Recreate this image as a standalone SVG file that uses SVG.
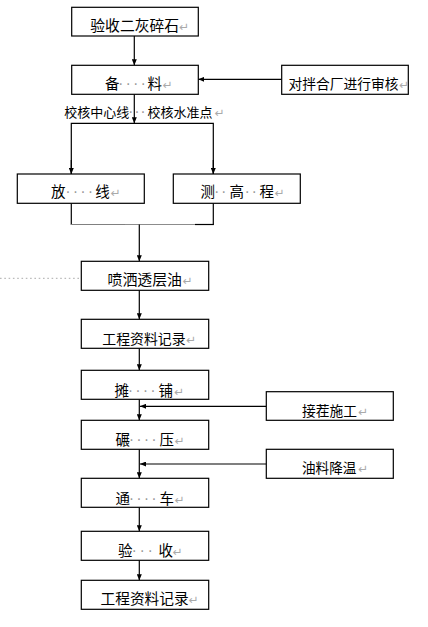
<svg xmlns="http://www.w3.org/2000/svg" width="428" height="627" viewBox="0 0 428 627">
<style>
.b{fill:#fff;stroke:#000;stroke-width:1.2}
.t{font-family:"Noto Sans CJK SC","Noto Sans",sans-serif;font-size:14.5px;fill:#000}
.d{font-family:"DejaVu Sans",sans-serif;font-size:14px;fill:#999;letter-spacing:3.05px}
.r{font-family:"DejaVu Sans",sans-serif;font-size:12px;fill:#aaa}
.c{fill:none;stroke:#000;stroke-width:1.2}
.a{marker-end:url(#ah)}
</style>
<defs>
<marker id="ah" viewBox="0 0 6 5" refX="6" refY="2.5" markerWidth="6" markerHeight="5" markerUnits="userSpaceOnUse" orient="auto">
<path d="M0,0 L6,2.5 L0,5 z" fill="#000"/>
</marker>
</defs>
<rect width="428" height="627" fill="#fff"/>
<g id="connectors">
<line class="c a" x1="134.3" y1="36" x2="134.3" y2="65.3"/>
<line class="c a" x1="281.7" y1="79.3" x2="198.3" y2="79.3"/>
<line class="c a" x1="134.3" y1="94.3" x2="134.3" y2="123.3"/>
<polyline class="c" points="71.3,174 71.3,123.3 213.3,123.3 213.3,174"/>
<line class="c a" x1="71.3" y1="160" x2="71.3" y2="174"/>
<line class="c a" x1="213.3" y1="160" x2="213.3" y2="174"/>
<line class="c" x1="71.3" y1="203.3" x2="71.3" y2="224.5"/>
<line class="c" x1="213.3" y1="203.3" x2="213.3" y2="224.5"/>
<line x1="70.7" y1="224.5" x2="125" y2="224.5" stroke="#808080" stroke-width="1.2"/>
<line x1="125" y1="224.5" x2="195" y2="224.5" stroke="#8c8c8c" stroke-width="1.2"/>
<line x1="195" y1="224.5" x2="213.9" y2="224.5" stroke="#000" stroke-width="1.2"/>
<line class="c a" x1="139.3" y1="224.5" x2="139.3" y2="261.3"/>
<line x1="0" y1="278.3" x2="81.3" y2="278.3" stroke="#aaa" stroke-width="1" stroke-dasharray="1.6 2.7"/>
<line class="c a" x1="139.3" y1="290.3" x2="139.3" y2="319.3"/>
<line class="c a" x1="139.3" y1="348.3" x2="139.3" y2="370.3"/>
<line class="c a" x1="139.3" y1="399.3" x2="139.3" y2="420.3"/>
<line class="c a" x1="266.3" y1="406.3" x2="140" y2="406.3"/>
<line class="c a" x1="139.3" y1="449.3" x2="139.3" y2="478.3"/>
<line class="c a" x1="266.3" y1="464" x2="140" y2="464"/>
<line class="c a" x1="139.3" y1="507.3" x2="139.3" y2="531.3"/>
<line class="c a" x1="139.3" y1="560.3" x2="139.3" y2="580.3"/>
</g>
<g id="n1">
<rect class="b" x="71.7" y="7.3" width="126.6" height="28.7"/>
<text class="t" y="30.5"><tspan x="90.3" style="font-size:14.8px">验收二灰碎石</tspan><tspan x="179" class="r">↵</tspan></text>
</g>
<g id="n2">
<rect class="b" x="71.7" y="65.3" width="126.6" height="29"/>
<text class="t" y="89"><tspan x="105">备</tspan><tspan x="118.5" class="d">····</tspan><tspan x="147.5">料</tspan><tspan x="162.5" class="r">↵</tspan></text>
</g>
<g id="n3">
<rect class="b" x="281.7" y="65.3" width="126.6" height="29"/>
<text class="t" y="89" style="font-size:13.75px"><tspan x="288.5">对拌合厂进行审核</tspan><tspan x="399" class="r">↵</tspan></text>
</g>
<g id="lbl">
<text class="t" y="117" style="font-size:13px"><tspan x="64.3">校核中心线</tspan><tspan x="128.5" class="d" style="letter-spacing:1.7px">···</tspan><tspan x="147.5">校核水准点</tspan><tspan x="214.5" class="r">↵</tspan></text>
</g>
<g id="n4">
<rect class="b" x="17.3" y="174" width="127" height="29.3"/>
<text class="t" y="197"><tspan x="51">放</tspan><tspan x="65.8" class="d">····</tspan><tspan x="95.3">线</tspan><tspan x="110.5" class="r">↵</tspan></text>
</g>
<g id="n5">
<rect class="b" x="173.3" y="174" width="127" height="29.3"/>
<text class="t" y="197"><tspan x="200.5">测</tspan><tspan x="214.5" class="d" style="letter-spacing:2.5px">··</tspan><tspan x="229.5">高</tspan><tspan x="245" class="d" style="letter-spacing:2.5px">··</tspan><tspan x="259.5">程</tspan><tspan x="274.5" class="r">↵</tspan></text>
</g>
<g id="n6">
<rect class="b" x="81.3" y="261.3" width="127.4" height="29"/>
<text class="t" y="285"><tspan x="107.5" style="font-size:14.9px">喷洒透层油</tspan><tspan x="182.5" class="r">↵</tspan></text>
</g>
<g id="n7">
<rect class="b" x="81.3" y="319.3" width="127.4" height="29"/>
<text class="t" y="344" style="font-size:13.9px"><tspan x="102.3">工程资料记录</tspan><tspan x="186" class="r">↵</tspan></text>
</g>
<g id="n8">
<rect class="b" x="81.3" y="370.3" width="127.4" height="29"/>
<text class="t" y="395.5"><tspan x="114.5">摊</tspan><tspan x="128.3" class="d">····</tspan><tspan x="158.5">铺</tspan><tspan x="174" class="r">↵</tspan></text>
</g>
<g id="n9">
<rect class="b" x="266.3" y="391.7" width="127" height="28.6"/>
<text class="t" y="415.5" style="font-size:13.75px"><tspan x="302">接茬施工</tspan><tspan x="358" class="r">↵</tspan></text>
</g>
<g id="n10">
<rect class="b" x="81.3" y="420.3" width="127.4" height="29"/>
<text class="t" y="445"><tspan x="115.5">碾</tspan><tspan x="129.3" class="d">····</tspan><tspan x="159.5">压</tspan><tspan x="174.5" class="r">↵</tspan></text>
</g>
<g id="n11">
<rect class="b" x="266.3" y="449.3" width="127" height="29"/>
<text class="t" y="473" style="font-size:13.6px"><tspan x="302">油料降温</tspan><tspan x="358" class="r">↵</tspan></text>
</g>
<g id="n12">
<rect class="b" x="81.3" y="478.3" width="127.4" height="29"/>
<text class="t" y="504"><tspan x="115.5">通</tspan><tspan x="129.3" class="d">····</tspan><tspan x="159.5">车</tspan><tspan x="174.5" class="r">↵</tspan></text>
</g>
<g id="n13">
<rect class="b" x="81.3" y="531.3" width="127.4" height="29"/>
<text class="t" y="555.5"><tspan x="118">验</tspan><tspan x="132" class="d" style="letter-spacing:3.5px">···</tspan><tspan x="158.5">收</tspan><tspan x="172.5" class="r">↵</tspan></text>
</g>
<g id="n14">
<rect class="b" x="81.3" y="580.3" width="127.4" height="29"/>
<text class="t" y="604" style="font-size:14.7px"><tspan x="100.5">工程资料记录</tspan><tspan x="188.5" class="r">↵</tspan></text>
</g>
</svg>
